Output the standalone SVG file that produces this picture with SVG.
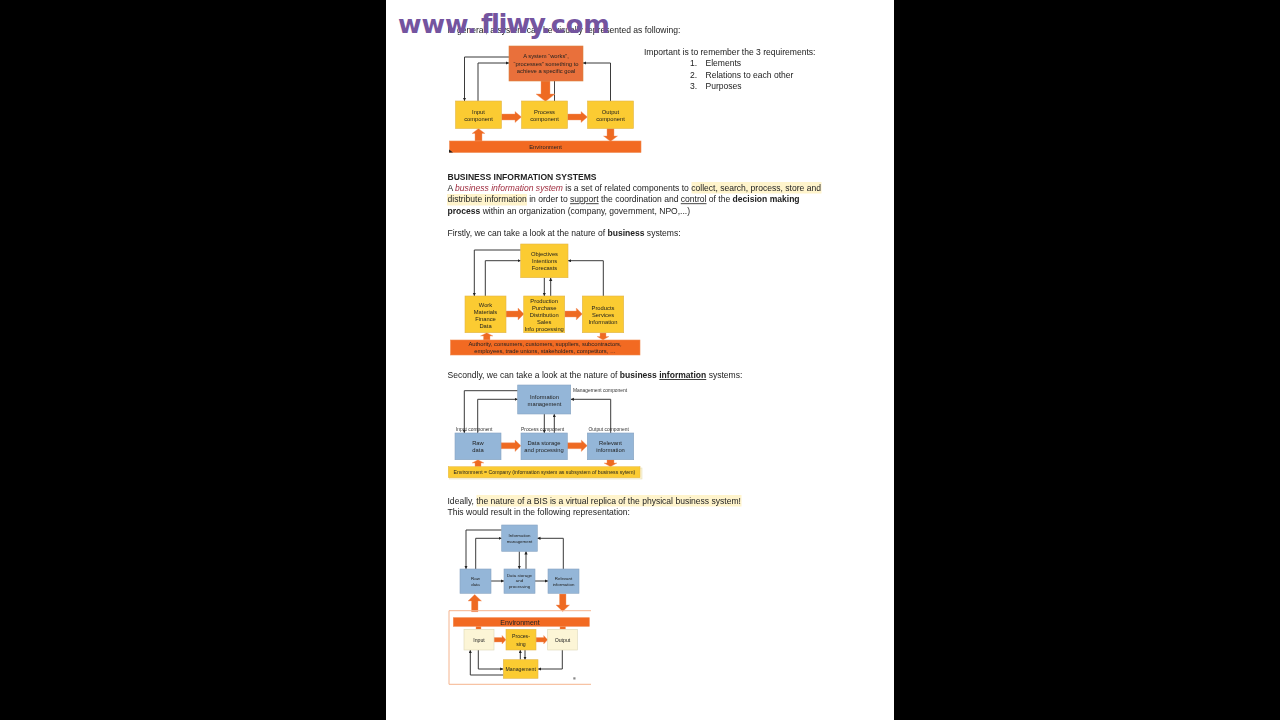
<svg xmlns="http://www.w3.org/2000/svg" width="1280" height="720" viewBox="0 0 1280 720">
<style>
text{font-family:"Liberation Sans",Arial,sans-serif;fill:#222}
.b{font-size:8.55px}
.n{font-size:5.8px;text-anchor:middle}
.s{font-size:4.4px;text-anchor:middle}
.m{font-size:5.2px;text-anchor:middle}
.l{font-size:4.9px;fill:#333}
.y{fill:#FBCB30;stroke:#E3B64A;stroke-width:.6}
.o{fill:#E9703A;stroke:#D9823F;stroke-width:.6}
.u{fill:#94B6D8;stroke:#87A4C2;stroke-width:.6}
.p{fill:#FCF5D6;stroke:#DDD8B4;stroke-width:.6}
.e{fill:#F26A21;stroke:#F08A50;stroke-width:.6}
.h{fill:#FFF4CC}
.c{fill:none;stroke:#444;stroke-width:1}
.k{fill:none;stroke:#3a3a3a;stroke-width:1;marker-end:url(#a)}
.f{fill:#EE6A24;stroke:#F29A6A;stroke-width:.4}
</style>
<defs>
<marker id="a" markerUnits="userSpaceOnUse" markerWidth="4" markerHeight="4" refX="3.2" refY="1.6" orient="auto"><path d="M0 0L3.2 1.6L0 3.2Z" fill="#222"/></marker>
<filter id="blur" filterUnits="userSpaceOnUse" x="0" y="0" width="1280" height="720"><feGaussianBlur stdDeviation="0.4"/></filter>
</defs>
<rect width="1280" height="720" fill="#000"/>
<rect x="386" y="0" width="508" height="720" fill="#fff"/>
<g filter="url(#blur)">
<g id="page-text">
<rect class="h" x="691.500" y="182" width="130" height="11.500"/>
<rect class="h" x="447" y="194" width="80" height="11.500"/>
<rect class="h" x="476.500" y="495" width="265" height="11.500"/>
<text class="b" x="447.500" y="32.500">In general, a system can be visually represented as following:</text>
<text class="b" x="644" y="55">Important is to remember the 3 requirements:</text>
<text class="b" x="690" y="66">1.</text><text class="b" x="705.500" y="66">Elements</text>
<text class="b" x="690" y="77.800">2.</text><text class="b" x="705.500" y="77.800">Relations to each other</text>
<text class="b" x="690" y="89">3.</text><text class="b" x="705.500" y="89">Purposes</text>
<text class="b" x="447.500" y="179.500" font-weight="bold">BUSINESS INFORMATION SYSTEMS</text>
<text class="b" x="447.500" y="190.800">A <tspan font-style="italic" style="fill:#9E2A3C">business information system</tspan> is a set of related components to collect, search, process, store and</text>
<text class="b" x="447.500" y="202.300">distribute information in order to <tspan text-decoration="underline">support</tspan> the coordination and <tspan text-decoration="underline">control</tspan> of the <tspan font-weight="bold">decision making</tspan></text>
<text class="b" x="447.500" y="213.500"><tspan font-weight="bold">process</tspan> within an organization (company, government, NPO,...)</text>
<text class="b" x="447.500" y="235.800">Firstly, we can take a look at the nature of <tspan font-weight="bold">business</tspan> systems:</text>
<text class="b" x="447.500" y="378">Secondly, we can take a look at the nature of <tspan font-weight="bold">business</tspan> <tspan font-weight="bold" text-decoration="underline">information</tspan> systems:</text>
<text class="b" x="447.500" y="504">Ideally, the nature of a BIS is a virtual replica of the physical business system!</text>
<text class="b" x="447.500" y="515">This would result in the following representation:</text>
</g>
<g id="connectors">
<path class="k" d="M509 57H464.500V101"/><path class="k" d="M478 101V63H509"/><path class="k" d="M610.500 101V63H583"/><path class="c" d="M554.500 101V81"/>
<path class="f" d="M541 81H550V94H555L545.500 101.500L536 94H541Z"/>
<path class="f" d="M501.500 114H515V111.500L521.500 117L515 122.500V120H501.500Z"/>
<path class="f" d="M567.500 114H581V111.500L587.500 117L581 122.500V120H567.500Z"/>
<path class="f" d="M475 141V133.500H472L478.500 128.500L485 133.500H482V141Z"/>
<path class="f" d="M607 128.500V136H603.500L610.500 141.500L617.500 136H614V128.500Z"/>
<path class="k" d="M520.700 250H474.300V296"/><path class="k" d="M485.300 296V260.700H520.700"/><path class="k" d="M603.300 296V260.700H568"/><path class="k" d="M544.300 277.700V296"/><path class="k" d="M550.700 296V277.700"/>
<path class="f" d="M506 311H518V308L524 314L518 320V317H506Z"/>
<path class="f" d="M564.700 311H576.300V308L582.300 314L576.300 320V317H564.700Z"/>
<path class="f" d="M483.500 340V336H480.500L486.700 332.700L493 336H490V340Z"/>
<path class="f" d="M600 333V336.500H597L603 340L609 336.500H606V333Z"/>
<path class="k" d="M517.700 390.700H464.300V433"/><path class="k" d="M477.700 433V399.300H517.700"/><path class="k" d="M610.700 433V399.300H570.700"/><path class="k" d="M544.300 414V433"/><path class="k" d="M554.300 433V414"/>
<path class="f" d="M501 442.700H515V440L521 445.700L515 451.500V448.700H501Z"/>
<path class="f" d="M567.300 442.700H581.300V440L587.300 445.700L581.300 451.500V448.700H567.300Z"/>
<path class="f" d="M475 466.700V463H472L478 459.700L484 463H481V466.700Z"/>
<path class="f" d="M607 459.700V463H604L610.500 466.700L617 463H614V459.700Z"/>
<path class="k" d="M501.700 530H466V569"/><path class="k" d="M475.700 569V538.300H501.700"/><path class="k" d="M563.300 569V538.300H537.300"/><path class="k" d="M519.300 551.300V569"/><path class="k" d="M526 569V551.300"/>
<path class="k" d="M491 581H504"/><path class="k" d="M535 581H548"/>
<path class="f" d="M471.500 611.700V601H468L474.700 594.500L481.500 601H478V611.700Z"/>
<path class="f" d="M559.500 594V605H556L562.700 611.500L569.500 605H566V594Z"/>
<path class="f" d="M476 629.300V626.300H481V629.300Z"/>
<path class="f" d="M560 629.300V626.300H565.500V629.300Z"/>
<path class="f" d="M494 637.500H502V635.500L506 639.700L502 644V642H494Z"/>
<path class="f" d="M536 637.500H543.700V635.500L547.700 639.700L543.700 644V642H536Z"/>
<path class="k" d="M478.300 650V669H503.300"/><path class="k" d="M503.300 675H470.300V650"/><path class="k" d="M562.300 650V669H538"/><path class="k" d="M520.300 659.700V650"/><path class="k" d="M525 650V659.700"/>
</g>
<g id="d1-goal"><rect class="o" x="509" y="46" width="74" height="35"/><text class="n" x="546" y="58">A system “works”,</text><text class="n" x="546" y="65.500">“processes” something to</text><text class="n" x="546" y="73">achieve a specific goal</text></g>
<g id="d1-input"><rect class="y" x="455.500" y="101" width="46" height="27.500"/><text class="n" x="478.500" y="113.500">Input</text><text class="n" x="478.500" y="120.500">component</text></g>
<g id="d1-process"><rect class="y" x="521.500" y="101" width="46" height="27.500"/><text class="n" x="544.500" y="113.500">Process</text><text class="n" x="544.500" y="120.500">component</text></g>
<g id="d1-output"><rect class="y" x="587.500" y="101" width="46" height="27.500"/><text class="n" x="610.500" y="113.500">Output</text><text class="n" x="610.500" y="120.500">component</text></g>
<g id="d1-environment"><rect class="e" x="449.500" y="141" width="191.500" height="11.500"/><path d="M449 149.500L453 152.500H449Z" fill="#222"/><text class="n" x="545.500" y="149">Environment</text></g>
<g id="d2-objectives"><rect class="y" x="520.700" y="244" width="47.300" height="33.700"/><text class="n" x="544.500" y="256.300">Objectives</text><text class="n" x="544.500" y="263">Intentions</text><text class="n" x="544.500" y="270">Forecasts</text></g>
<g id="d2-work"><rect class="y" x="465" y="296" width="41" height="36.700"/><text class="n" x="485.500" y="306.500">Work</text><text class="n" x="485.500" y="313.500">Materials</text><text class="n" x="485.500" y="320.500">Finance</text><text class="n" x="485.500" y="327.500">Data</text></g>
<g id="d2-production"><rect class="y" x="523.700" y="296" width="41" height="36.700"/><text class="n" x="544.200" y="303">Production</text><text class="n" x="544.200" y="310">Purchase</text><text class="n" x="544.200" y="317">Distribution</text><text class="n" x="544.200" y="323.500">Sales</text><text class="n" x="544.200" y="330.800">Info processing</text></g>
<g id="d2-products"><rect class="y" x="582.300" y="296" width="41.400" height="36.700"/><text class="n" x="603" y="310">Products</text><text class="n" x="603" y="317">Services</text><text class="n" x="603" y="324">Information</text></g>
<g id="d2-environment"><rect class="e" x="450.500" y="340" width="189.500" height="15"/><text class="n" x="545" y="346.200">Authority, consumers, customers, suppliers,  subcontractors,</text><text class="n" x="545" y="353">employees,  trade unions, stakeholders, competitors, …</text></g>
<g id="d3-management"><rect class="u" x="517.700" y="385" width="53" height="29"/><text class="n" x="544.500" y="398.500">Information</text><text class="n" x="544.500" y="405.500">management</text><text class="l" x="573" y="391.500">Management component</text></g>
<g id="d3-raw"><rect class="u" x="455" y="433" width="46" height="26.700"/><text class="n" x="478" y="445">Raw</text><text class="n" x="478" y="452">data</text><text class="l" x="456" y="431">Input component</text></g>
<g id="d3-storage"><rect class="u" x="521" y="433" width="46.300" height="26.700"/><text class="n" x="544" y="445">Data storage</text><text class="n" x="544" y="452">and processing</text><text class="l" x="521" y="431">Process component</text></g>
<g id="d3-relevant"><rect class="u" x="587.300" y="433" width="46.400" height="26.700"/><text class="n" x="610.500" y="445">Relevant</text><text class="n" x="610.500" y="452">information</text><text class="l" x="588.500" y="431">Output component</text></g>
<g id="d3-environment"><rect x="449.500" y="468" width="192.500" height="11" fill="#FBF3D5" stroke="#E8DFBC" stroke-width=".6"/><rect x="448.300" y="466.700" width="191.700" height="11" fill="#FBCB30" stroke="#E8B83C" stroke-width=".5"/><text x="453.500" y="474.300" style="font-size:5.200px">Environment = Company (information system as subsystem of business sytem)</text></g>
<g id="d4-management"><rect class="u" x="501.700" y="525" width="35.600" height="26.300"/><text class="s" x="519.500" y="537">Information</text><text class="s" x="519.500" y="543">management</text></g>
<g id="d4-raw"><rect class="u" x="460" y="569" width="31" height="24.300"/><text class="s" x="475.500" y="580">Raw</text><text class="s" x="475.500" y="586">data</text></g>
<g id="d4-storage"><rect class="u" x="504" y="569" width="31" height="24.300"/><text class="s" x="519.500" y="576.500">Data storage</text><text class="s" x="519.500" y="582">and</text><text class="s" x="519.500" y="588">processing</text></g>
<g id="d4-relevant"><rect class="u" x="548" y="569" width="31" height="24.300"/><text class="s" x="563.500" y="580">Relevant</text><text class="s" x="563.500" y="586">information</text></g>
<g id="d4-frame"><path d="M591 610.700H449V684.300H591" fill="none" stroke="#F5B48E" stroke-width="1"/></g>
<g id="d4-environment"><rect class="e" x="453.300" y="617.700" width="136" height="8.600"/><text x="520" y="624.700" text-anchor="middle" style="font-size:7px">Environment</text></g>
<g id="d4-input"><rect class="p" x="464" y="629.300" width="30" height="20.700"/><text class="m" x="479" y="641.800">Input</text></g>
<g id="d4-processing"><rect class="y" x="506" y="629.300" width="30" height="20.700"/><text class="m" x="521" y="638">Proces-</text><text class="m" x="521" y="645.500">sing</text></g>
<g id="d4-output"><rect class="p" x="547.700" y="629.300" width="29.600" height="20.700"/><text class="m" x="562.500" y="641.800">Output</text></g>
<g id="d4-mgmt"><rect class="y" x="503.300" y="659.700" width="34.700" height="18.600"/><text class="m" x="520.700" y="671">Management</text></g>
<rect x="573.300" y="677.300" width="2.200" height="2.200" fill="#888"/>
</g>
<text x="398" y="33" style="font-family:'DejaVu Sans',sans-serif;font-weight:bold;font-size:25.500px;fill:#74549F">www.<tspan x="481" style="font-size:26px" letter-spacing="-1.300">fliwy</tspan><tspan x="541" style="font-size:25.500px">.com</tspan></text>
</svg>
